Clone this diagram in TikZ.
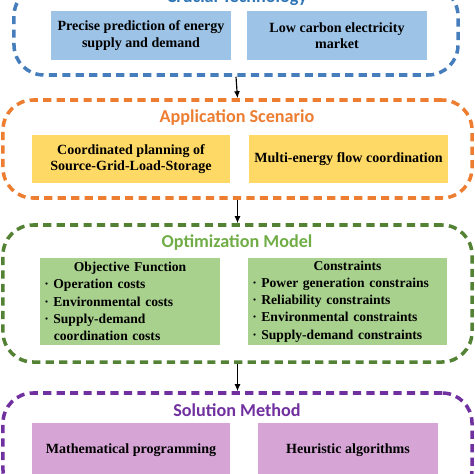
\documentclass[tikz,border=0pt]{standalone}
\usepackage{fontspec}
\usepackage{xcolor}
\usepackage{tikz}
\usetikzlibrary{arrows.meta}
\setmainfont{Liberation Serif}
\newfontfamily\titlefont{Carlito}
\definecolor{techline}{RGB}{70,125,188}
\definecolor{techtext}{RGB}{46,117,182}
\definecolor{techfill}{RGB}{157,195,230}
\definecolor{sceneline}{RGB}{237,125,49}
\definecolor{scenefill}{RGB}{255,217,102}
\definecolor{modelline}{RGB}{84,130,53}
\definecolor{modeltext}{RGB}{112,173,71}
\definecolor{modelfill}{RGB}{169,209,142}
\definecolor{methodline}{RGB}{112,48,160}
\definecolor{methodfill}{RGB}{214,165,214}

\begin{document}
\begin{tikzpicture}[x=0.03cm,y=-0.03cm,
		group/.style={draw,line width=3pt,dash pattern=on 7pt off 4.5pt,rounded corners=0.9cm,inner sep=0pt},
		box/.style={inner sep=0pt,align=center,font=\bfseries\fontsize{12}{13.8}\selectfont},
		listbox/.style={inner xsep=0.13cm,inner ysep=0pt,font=\bfseries\fontsize{11.6}{14.7}\selectfont},
		heading/.style={font=\titlefont\bfseries\fontsize{15.5}{17}\selectfont},
		flow/.style={-{Latex[length=6pt,width=5pt]},line width=1pt}]
				\clip (0,0) rectangle (474,474);
				\useasboundingbox (0,0) rectangle (474,474);
				\node[group,draw=techline,minimum width=13.32cm,minimum height=2.67cm] (techgroup) at (236,30.5) {};
				\node[heading,text=techtext] (techtitle) at (237,-2) {Crucial Technology};
				\node[box,fill=techfill,minimum width=5.4cm,minimum height=1.47cm] (prediction) at (141,35.5) {Precise prediction of energy\\supply and demand};
				\node[box,fill=techfill,minimum width=5.4cm,minimum height=1.47cm] (market) at (337,35.5) {Low carbon electricity\\market};
				\node[group,draw=sceneline,minimum width=14.07cm,minimum height=2.94cm] (scenegroup) at (237.5,149) {};
				\node[heading,text=sceneline] (scenetitle) at (237,118) {Application Scenario};
				\node[box,fill=scenefill,minimum width=5.94cm,minimum height=1.44cm] (planning) at (131,159) {Coordinated planning of\\Source-Grid-Load-Storage};
				\node[box,fill=scenefill,minimum width=5.97cm,minimum height=1.44cm] (multienergy) at (348.5,159) {Multi-energy flow coordination};
				\node[group,draw=modelline,minimum width=14.07cm,minimum height=4.11cm] (modelgroup) at (237.5,293.5) {};
				\node[heading,text=modeltext] (modeltitle) at (237,243) {Optimization Model};
				\node[listbox,fill=modelfill,text width=5.14cm,minimum height=2.61cm] (objective) at (130,301.5) {{\centering Objective Function\par}\raggedright
					· Operation costs\\
					· Environmental costs\\
					· Supply-demand\\
					\hspace*{0.7em}coordination costs};
				\node[listbox,fill=modelfill,text width=5.71cm,minimum height=2.61cm] (constraints) at (347.5,301.5) {{\centering Constraints\par}\raggedright
					· Power generation constrains\\
					· Reliability constraints\\
					· Environmental constraints\\
					· Supply-demand constraints};
				\node[group,draw=methodline,minimum width=14.07cm,minimum height=3.21cm] (methodgroup) at (237.5,446.5) {};
				\node[heading,text=methodline] (methodtitle) at (237,410) {Solution Method};
				\node[box,fill=methodfill,minimum width=5.94cm,minimum height=1.62cm] (programming) at (131,450) {Mathematical programming};
				\node[box,fill=methodfill,minimum width=5.4cm,minimum height=1.62cm] (heuristic) at (348,450) {Heuristic algorithms};
				\draw[flow] (techgroup.south) -- (scenegroup.north);
				\draw[flow] (scenegroup.south) -- (modelgroup.north);
				\draw[flow] (modelgroup.south) -- (methodgroup.north);
		\end{tikzpicture}
\end{document}
